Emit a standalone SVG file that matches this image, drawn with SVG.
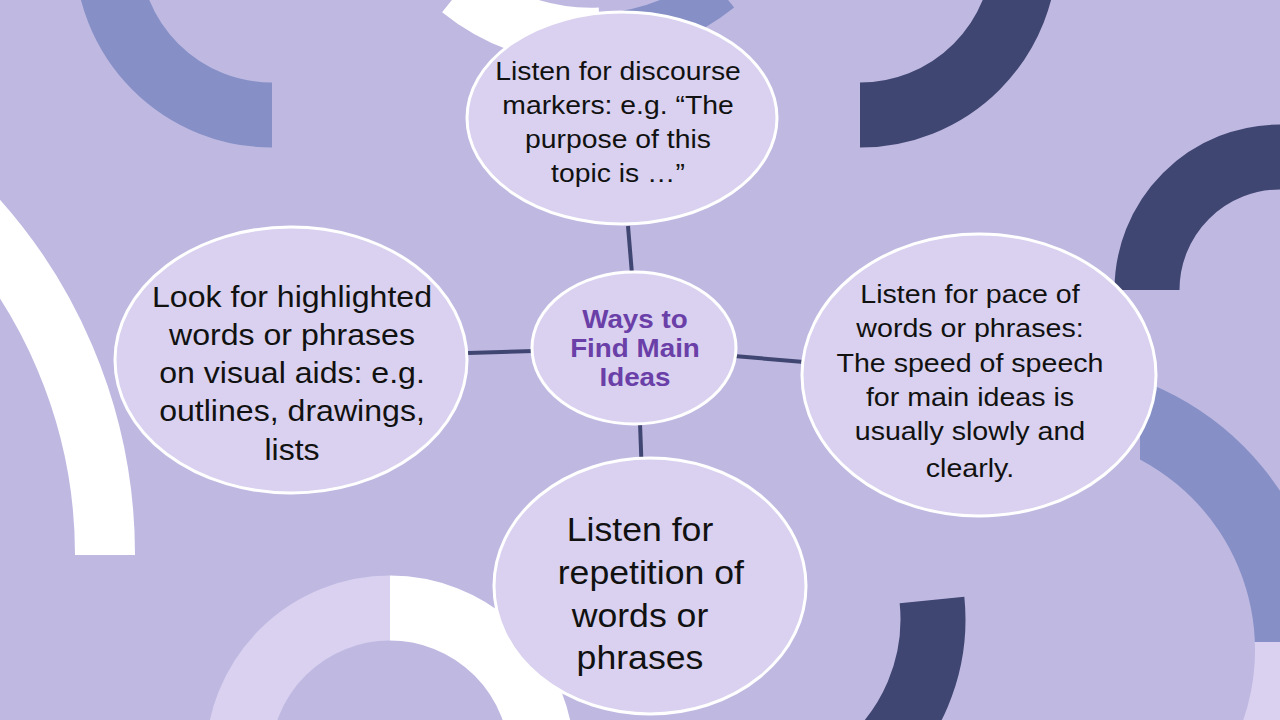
<svg xmlns="http://www.w3.org/2000/svg" width="1280" height="720" viewBox="0 0 1280 720">
<defs>
<style>
.n{fill:#d9d1ef;stroke:#fff;stroke-width:3}
.t{font-family:"Liberation Sans",Arial,sans-serif;fill:#111;text-anchor:middle}
.c{stroke:#404672;stroke-width:4;fill:none}
</style>
<clipPath id="cr"><rect x="1140" y="0" width="140" height="642"/></clipPath>
</defs>
<g id="background">
<rect width="1280" height="720" fill="#bfb9e2"/>
<rect x="1140" y="642" width="140" height="78" fill="#d9d1ef"/>
<circle cx="1040" cy="650" r="288" fill="#8690c6" clip-path="url(#cr)"/>
<circle cx="1040" cy="650" r="215" fill="#bfb9e2"/>
<path d="M272 115 A165 165 0 0 1 107 -50" stroke="#8690c6" stroke-width="65" fill="none"/>
<path d="M860 115 A165 165 0 0 0 1025 -50" stroke="#404672" stroke-width="65" fill="none"/>
<path d="M1147 290 A133 133 0 0 1 1280 157" stroke="#404672" stroke-width="65" fill="none"/>
<path d="M460 -10 A208 208 0 0 0 600 36" stroke="#fff" stroke-width="57" fill="none"/>
<path d="M600 36 A208 208 0 0 0 720 -10" stroke="#8690c6" stroke-width="45" fill="none"/>
<path d="M932 600 A192 192 0 0 1 860 770" stroke="#404672" stroke-width="65" fill="none"/>
<path d="M105 555 A504 504 0 0 0 -50 191" stroke="#fff" stroke-width="60" fill="none"/>
<path d="M238 760 A152 152 0 0 1 390 608" stroke="#d9d1ef" stroke-width="65" fill="none"/>
<path d="M390 608 A152 152 0 0 1 542 760" stroke="#fff" stroke-width="65" fill="none"/>
</g>
<g id="connectors">
<line class="c" x1="628" y1="226" x2="632" y2="274"/>
<line class="c" x1="468" y1="353" x2="534" y2="351"/>
<line class="c" x1="734" y1="356" x2="804" y2="362"/>
<line class="c" x1="640" y1="423" x2="642" y2="477"/>
</g>
<g id="top">
<ellipse class="n" cx="622" cy="118" rx="155" ry="106"/>
<text class="t" font-size="26" transform="translate(618 0) scale(1.09 1) translate(-618 0)"><tspan x="618" y="80">Listen for discourse</tspan><tspan x="618" y="114">markers: e.g. “The</tspan><tspan x="618" y="148">purpose of this</tspan><tspan x="618" y="182">topic is …”</tspan></text>
</g>
<g id="left">
<ellipse class="n" cx="291" cy="360" rx="176" ry="133"/>
<text class="t" font-size="30" transform="translate(292 0) scale(1.07 1) translate(-292 0)"><tspan x="292" y="307">Look for highlighted</tspan><tspan x="292" y="345">words or phrases</tspan><tspan x="292" y="383">on visual aids: e.g.</tspan><tspan x="292" y="421">outlines, drawings,</tspan><tspan x="292" y="460">lists</tspan></text>
</g>
<g id="right">
<ellipse class="n" cx="979" cy="375" rx="177" ry="141"/>
<text class="t" font-size="26" transform="translate(970 0) scale(1.1 1) translate(-970 0)"><tspan x="970" y="303">Listen for pace of</tspan><tspan x="970" y="337">words or phrases:</tspan><tspan x="970" y="372">The speed of speech</tspan><tspan x="970" y="406">for main ideas is</tspan><tspan x="970" y="440">usually slowly and</tspan><tspan x="970" y="477">clearly.</tspan></text>
</g>
<g id="bottom">
<ellipse class="n" cx="650" cy="586" rx="156" ry="128"/>
<text class="t" font-size="33" transform="translate(640 0) scale(1.08 1) translate(-640 0)"><tspan x="640" y="541">Listen for</tspan><tspan x="650" y="584">repetition of</tspan><tspan x="640" y="627">words or</tspan><tspan x="640" y="669">phrases</tspan></text>
</g>
<g id="center">
<ellipse class="n" cx="634" cy="348" rx="102" ry="76"/>
<text class="t" font-size="26" font-weight="bold" style="fill:#6a3fa8" transform="translate(635 0) scale(1.07 1) translate(-635 0)"><tspan x="635" y="328">Ways to</tspan><tspan x="635" y="357">Find Main</tspan><tspan x="635" y="386">Ideas</tspan></text>
</g>
</svg>
